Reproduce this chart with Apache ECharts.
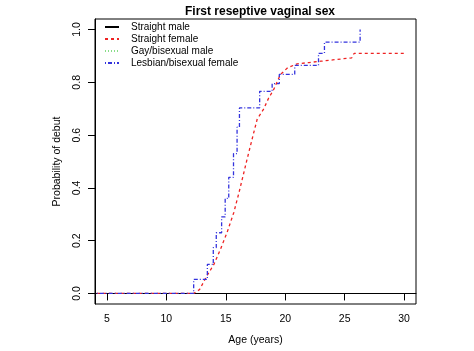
<!DOCTYPE html>
<html>
<head>
<meta charset="utf-8">
<script src="https://cdn.jsdelivr.net/npm/echarts@6/dist/echarts.min.js"></script>
<style>
  html, body { margin: 0; padding: 0; background: #fff; }
  #chart { width: 474px; height: 351px; }
</style>
</head>
<body>
<div id="chart"></div>
<script>
const xTicks = [5, 10, 15, 20, 25, 30];
const yTicks = [0, 0.2, 0.4, 0.6, 0.8, 1.0];

// Kaplan-Meier style step points: [age, probability]
const straightMale = [];
const straightFemale = [
  [4.15, 0], [12.3, 0], [12.8, 0.015], [13.4, 0.066], [14.0, 0.11],
  [14.55, 0.167], [15.1, 0.23], [15.67, 0.306], [16.1, 0.38], [16.8, 0.51],
  [17.3, 0.6], [17.64, 0.66], [18.2, 0.7], [18.6, 0.74], [19.0, 0.77],
  [19.6, 0.83], [20.2, 0.855], [21.0, 0.87], [22.0, 0.875], [23.0, 0.88],
  [24.0, 0.885], [25.6, 0.893], [25.8, 0.91], [30.0, 0.91]
];
const gayMale = [];
const lesbianFemale = [
  [4.15, 0], [12.3, 0.053], [13.45, 0.11], [13.95, 0.174], [14.2, 0.23],
  [14.65, 0.29], [14.95, 0.36], [15.25, 0.44], [15.65, 0.53], [15.95, 0.63],
  [16.15, 0.703], [17.85, 0.766], [18.9, 0.795], [19.5, 0.83], [20.8, 0.864],
  [22.8, 0.91], [23.3, 0.952], [26.3, 1.0]
];

const chart = echarts.init(document.getElementById("chart"));

const font = "Liberation Sans, Arial, sans-serif";

const option = {
  animation: false,
  title: {
    text: "First reseptive vaginal sex",
    left: 255,
    textAlign: "center",
    top: 1,
    textStyle: { fontFamily: font, fontSize: 12, fontWeight: "bold", color: "#000" },
  },
  legend: {
    orient: "vertical",
    left: 99,
    top: 17,
    itemWidth: 14,
    itemHeight: 12,
    itemGap: 2,
    itemStyle: { opacity: 0 },
    textStyle: { fontFamily: font, fontSize: 10, color: "#000", padding: [0, 0, 0, 7] },
    data: ["Straight male", "Straight female", "Gay/bisexual male", "Lesbian/bisexual female"],
  },
  grid: {
    left: 95,
    right: 58,
    top: 19,
    bottom: 47,
    show: true,
    borderColor: "#000",
    borderWidth: 1,
  },
  xAxis: {
    type: "value",
    min: 4,
    max: 31,
    name: "Age (years)",
    nameLocation: "middle",
    nameGap: 31,
    nameTextStyle: { fontFamily: font, fontSize: 10.5, color: "#000" },
    axisLine: { show: true, lineStyle: { color: "#000" } },
    axisTick: { show: true, length: 7, customValues: xTicks, lineStyle: { color: "#000" } },
    axisLabel: {
      customValues: xTicks,
      margin: 10,
      fontFamily: font,
      fontSize: 10.5,
      color: "#000",
    },
    splitLine: { show: false },
  },
  yAxis: {
    type: "value",
    min: -0.04,
    max: 1.04,
    name: "Probability of debut",
    nameLocation: "middle",
    nameGap: 32,
    nameTextStyle: { fontFamily: font, fontSize: 10.5, color: "#000" },
    axisLine: { show: true, lineStyle: { color: "#000" } },
    axisTick: { show: true, length: 7, customValues: yTicks, lineStyle: { color: "#000" } },
    axisLabel: {
      customValues: yTicks,
      rotate: 90,
      margin: 12,
      fontFamily: font,
      fontSize: 10.5,
      color: "#000",
      formatter: (v) => v.toFixed(1),
    },
    splitLine: { show: false },
  },
  series: [
    {
      name: "Straight male",
      type: "line",
      step: "end",
      symbol: "none",
      data: straightMale,
      itemStyle: { color: "#000" },
      lineStyle: { color: "#000", width: 1.2, type: "solid" },
    },
    {
      name: "Straight female",
      type: "line",
      symbol: "none",
      data: straightFemale,
      itemStyle: { color: "#ee2222" },
      lineStyle: { color: "#ee2222", width: 1.3, type: [3, 3] },
    },
    {
      name: "Gay/bisexual male",
      type: "line",
      step: "end",
      symbol: "none",
      data: gayMale,
      itemStyle: { color: "#88dd88" },
      lineStyle: { color: "#88dd88", width: 1.3, type: [1, 2] },
    },
    {
      name: "Lesbian/bisexual female",
      type: "line",
      step: "end",
      symbol: "none",
      data: lesbianFemale,
      itemStyle: { color: "#3333dd" },
      lineStyle: { color: "#3333dd", width: 1.3, type: [1, 2, 4, 2] },
    },
  ],
};

chart.setOption(option);
</script>
</body>
</html>
